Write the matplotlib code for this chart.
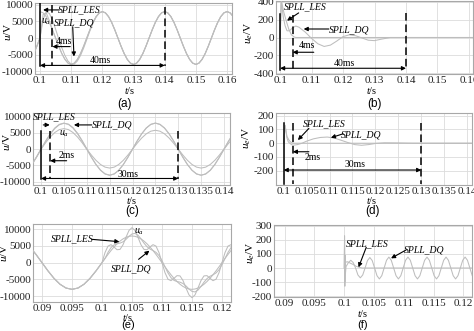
import numpy as np
import matplotlib
matplotlib.use("Agg")
import matplotlib.pyplot as plt

plt.rcParams.update({
    "font.family": ["Liberation Serif", "DejaVu Serif"],
    "font.size": 8,
    "axes.unicode_minus": False,
    "mathtext.fontset": "custom",
    "mathtext.rm": "Liberation Serif",
    "mathtext.it": "Liberation Serif:italic",
})

# ---------------- (a) phase jump: grid voltage and PLL outputs ----------------
a_t_pre = [0.098, 0.099, 0.100]
a_u_pre = [-4702, -2472, 0]
a_t0, a_dt = 0.100, 0.001
a_ua = [8000, 7608, 6472, 4702, 2472, 0, -2472, -4702, -6472, -7608,
        -8000, -7608, -6472, -4702, -2472, 0, 2472, 4702, 6472, 7608,
        8000, 7608, 6472, 4702, 2472, 0, -2472, -4702, -6472, -7608,
        -8000, -7608, -6472, -4702, -2472, 0, 2472, 4702, 6472, 7608,
        8000, 7608, 6472, 4702, 2472, 0, -2472, -4702, -6472, -7608,
        -8000, -7608, -6472, -4702, -2472, 0, 2472, 4702, 6472, 7608,
        8000, 7608, 6472]
a_les = [0, 7128, 7608, 5289, 2472, 0, -2472, -4702, -6472, -7608,
         -8000, -7608, -6472, -4702, -2472, 0, 2472, 4702, 6472, 7608,
         8000, 7608, 6472, 4702, 2472, 0, -2472, -4702, -6472, -7608,
         -8000, -7608, -6472, -4702, -2472, 0, 2472, 4702, 6472, 7608,
         8000, 7608, 6472, 4702, 2472, 0, -2472, -4702, -6472, -7608,
         -8000, -7608, -6472, -4702, -2472, 0, 2472, 4702, 6472, 7608,
         8000, 7608, 6472]
a_dq = [0, 5657, 7902, 7439, 5477, 2710, -251, -2944, -5289, -7009,
        -7902, -7881, -6950, -5289, -3061, -502, 2111, 4497, 6355, 7568,
        8000, 7608, 6472, 4702, 2472, 0, -2472, -4702, -6472, -7608,
        -8000, -7608, -6472, -4702, -2472, 0, 2472, 4702, 6472, 7608,
        8000, 7608, 6472, 4702, 2472, 0, -2472, -4702, -6472, -7608,
        -8000, -7608, -6472, -4702, -2472, 0, 2472, 4702, 6472, 7608,
        8000, 7608, 6472]

# ---------------- (b) phase jump: voltage error ----------------
b_t_les = [0.1000, 0.1004, 0.1012, 0.1020, 0.1028, 0.1036, 0.1045, 0.1050, 0.1620]
b_les = [0, 410, 280, 180, 90, 30, 5, 0, 0]
b_t_dq = [0.1000, 0.1004, 0.1010, 0.1016, 0.1022, 0.1030, 0.1040, 0.1050, 0.1060,
          0.1080, 0.1100, 0.1120, 0.1140, 0.1160, 0.1180, 0.1200, 0.1220, 0.1240,
          0.1260, 0.1280, 0.1300, 0.1320, 0.1350, 0.1400, 0.1620]
b_dq = [0, 410, 230, 130, 75, 75, 110, 128, 115, 60, -10, -70, -100, -85, -40,
        10, 30, 20, -5, -30, -35, -20, 0, 0, 0]

# ---------------- (c) voltage sag: grid voltage and PLL outputs ----------------
c_t0, c_dt = 0.098, 0.001
c_les = [-4702, -2472,
         0, 2472, 4702, 6472, 7608, 8000, 7608, 6472, 4702, 2472,
         0, -2472, -4702, -6472, -7608, -8000, -7608, -6472, -4702, -2472,
         0, 2472, 4702, 6472, 7608, 8000, 7608, 6472, 4702, 2472,
         0, -2472, -4702, -6472, -7608, -8000, -7608, -6472, -4702, -2472,
         0, 2472, 4702]
c_dq = [-4702, -2472,
        0, 2380, 4560, 6330, 7500, 7950, 7660, 6600, 4850, 2620,
        120, -2380, -4630, -6430, -7590, -8000, -7608, -6472, -4702, -2472,
        0, 2472, 4702, 6472, 7608, 8000, 7608, 6472, 4702, 2472,
        0, -2472, -4702, -6472, -7608, -8000, -7608, -6472, -4702, -2472,
        0, 2472, 4702]
c_ua = [-4702, -2472,
        0, 1950, 3700, 5100, 6000, 6300, 6000, 5100, 3700, 1950,
        0, -1792, -3410, -4692, -5516, -5800, -5516, -4692, -3410, -1792,
        0, 1792, 3410, 4692, 5516, 5800, 5516, 4692, 3410, 1792,
        0, -1792, -3410, -4692, -5516, -5800, -5516, -4692, -3410, -1792,
        0, 1792, 3410]

# ---------------- (d) voltage sag: voltage error ----------------
d_t_les = [0.1000, 0.1003, 0.1007, 0.1012, 0.1016, 0.1020, 0.1420]
d_les = [0, 130, 50, 20, 6, 0, 0]
d_t_dq = [0.1000, 0.1003, 0.1007, 0.1010, 0.1015, 0.1020, 0.1030, 0.1040, 0.1050,
          0.1065, 0.1080, 0.1095, 0.1110, 0.1125, 0.1140, 0.1155, 0.1170, 0.1185,
          0.1200, 0.1220, 0.1250, 0.1280, 0.1420]
d_dq = [0, 130, 40, 10, -5, -15, -10, 0, 15, 32, 42, 45, 38, 22, 5, -10, -15,
        -10, -2, 3, 2, 0, 0]

# ---------------- (e) harmonic distortion: grid voltage and PLL outputs ----------------
e_t_pre = [0.088, 0.089, 0.090, 0.091, 0.092, 0.093, 0.094, 0.095, 0.096,
           0.097, 0.098, 0.099, 0.100]
e_u_pre = [4702, 2472, 0, -2472, -4702, -6472, -7608, -8000, -7608, -6472,
           -4702, -2472, 0]
e_t0, e_dt = 0.100, 0.0005
e_ua = [0, 3019, 4972, 5400, 4702, 3889, 3972, 5360, 7608, 9670,
        10500, 9670, 7608, 5360, 3972, 3889, 4702, 5400, 4972, 3019,
        0, -3019, -4972, -5400, -4702, -3889, -3972, -5360, -7608, -9670,
        -10500, -9670, -7608, -5360, -3972, -3889, -4702, -5400, -4972, -3019,
        0, 3019, 4972, 5400, 4702]
e_les = [0, 1251, 2472, 3632, 4702, 5657, 6472, 7128, 7608, 7902,
         8000, 7902, 7608, 7128, 6472, 5657, 4702, 3632, 2472, 1251,
         0, -1251, -2472, -3632, -4702, -5657, -6472, -7128, -7608, -7902,
         -8000, -7902, -7608, -7128, -6472, -5657, -4702, -3632, -2472, -1251,
         0, 1251, 2472, 3632, 4702]
e_dq = [0, 1251, 3091, 4507, 5321, 5657, 5853, 6253, 6989, 7902,
        8619, 8777, 8227, 7128, 5853, 4782, 4083, 3632, 3091, 2126,
        619, -1251, -3091, -4507, -5321, -5657, -5853, -6253, -6989, -7902,
        -8619, -8777, -8227, -7128, -5853, -4782, -4083, -3632, -3091, -2126,
        -619, 1251, 3091, 4507, 5321]

# ---------------- (f) harmonic distortion: voltage error ----------------
f_t_les = [0.1000, 0.10005, 0.1001, 0.1002, 0.1005, 0.1010, 0.1015, 0.1020,
           0.1025, 0.1030, 0.1225]
f_les = [0, 200, -100, 40, 45, 35, 25, 12, 5, 0, 0]
f_t_start = [0.1000, 0.10005, 0.1001, 0.10015, 0.1002, 0.1003]
f_dq_start = [0, 230, -130, 90, -40, 10]
f_t0, f_dt = 0.1007, 0.0004
f_dq = [39, 55, 39, 0, -50, -70, -50, 0, 53, 75, 53, 0, -55, -78, -55, 0,
        55, 78, 55, 0, -55, -78, -55, 0,
        55, 78, 55, 0, -55, -78, -55, 0,
        55, 78, 55, 0, -55, -78, -55, 0,
        55, 78, 55, 0, -55, -78, -55, 0,
        55, 78, 55, 0, -55, -78, -55, 0]

# ---------------- axes ticks ----------------
a_xticks = [0.10, 0.11, 0.12, 0.13, 0.14, 0.15, 0.16]
a_xlabels = ["0.1", "0.11", "0.12", "0.13", "0.14", "0.15", "0.16"]
c_xticks = [0.100, 0.105, 0.110, 0.115, 0.120, 0.125, 0.130, 0.135, 0.140]
c_xlabels = ["0.1", "0.105", "0.11", "0.115", "0.12", "0.125", "0.13", "0.135", "0.14"]
e_xticks = [0.090, 0.095, 0.100, 0.105, 0.110, 0.115, 0.120]
e_xlabels = ["0.09", "0.095", "0.1", "0.105", "0.11", "0.115", "0.12"]
u_yticks = [-10000, -5000, 0, 5000, 10000]
b_yticks = [-400, -200, 0, 200, 400]
d_yticks = [-200, -100, 0, 100, 200]
f_yticks = [-200, -100, 0, 100, 200, 300]

W, H = 474, 331
fig = plt.figure(figsize=(W / 100, H / 100), dpi=100)


def make_axes(l, r, t, b):
    return fig.add_axes([l / W, 1 - b / H, (r - l) / W, (b - t) / H])


CURVE = dict(color="#bdbdbd", lw=0.75, zorder=3)


def setup(ax, xlim, ylim, xt, xl, yt, ylab, ylab_pos, xlab_pos):
    ax.set_xlim(xlim)
    ax.set_ylim(ylim)
    ax.set_xticks(xt)
    ax.set_xticklabels(xl)
    ax.set_yticks(yt)
    ax.set_yticklabels([str(v) for v in yt])
    ax.grid(True, color="#dcdcdc", lw=0.6)
    ax.set_axisbelow(True)
    for s in ax.spines.values():
        s.set_color("#a8a8a8")
        s.set_linewidth(0.8)
    ax.tick_params(length=0, labelsize=8, pad=1.2, colors="#222222")
    ax.text(ylab_pos[0], ylab_pos[1], ylab, rotation=90, ha="center", va="center",
            fontsize=8, transform=ax.transAxes)
    ax.text(xlab_pos[0], xlab_pos[1], r"$t$/s", ha="center", va="center",
            fontsize=7.5, transform=ax.transAxes)


def vline(ax, x, y0, y1, dashed=False):
    ax.plot([x, x], [y0, y1], color="k", lw=1.1,
            ls=(0, (5, 2.5)) if dashed else "-", zorder=4)


def arrow(ax, tip, tail, both=False):
    ax.annotate("", xy=tip, xytext=tail,
                arrowprops=dict(arrowstyle="<|-|>" if both else "-|>", color="k",
                                lw=0.8, mutation_scale=6, shrinkA=0, shrinkB=0),
                zorder=5)


def note(ax, x, y, s, italic=False, size=7):
    ax.text(x, y, s, ha="center", va="center", fontsize=size,
            style="italic" if italic else "normal", zorder=6)


def grid_t(t0, dt, vals):
    return t0 + dt * np.arange(len(vals))


# ---- (a)
ax = make_axes(35, 232, 3, 74)
ta = grid_t(a_t0, a_dt, a_ua)
ax.plot(np.r_[a_t_pre, ta], np.r_[a_u_pre, a_ua], **CURVE)
ax.plot(np.r_[a_t_pre, ta], np.r_[a_u_pre, a_les], **CURVE)
ax.plot(np.r_[a_t_pre, ta], np.r_[a_u_pre, a_dq], **CURVE)
setup(ax, (0.0984, 0.1616), (-10900, 10600), a_xticks, a_xlabels, u_yticks,
      r"$u$/V", (-0.142, 0.59), (0.48, -0.23))
vline(ax, 0.100, 10500, -8600)
vline(ax, 0.104, 10000, -8600, True)
vline(ax, 0.140, 9300, -8600, True)
arrow(ax, (0.140, -8300), (0.100, -8300), both=True)
note(ax, 0.1195, -6800, "40ms")
arrow(ax, (0.104, -2600), (0.1097, -2600))
note(ax, 0.1077, -1100, "4ms")
note(ax, 0.1126, 8500, "SPLL_LES", italic=True)
arrow(ax, (0.101, 8500), (0.1062, 8500))
note(ax, 0.1020, 4900, r"$u_a$")
note(ax, 0.1108, 4640, "SPLL_DQ", italic=True)
arrow(ax, (0.1109, -5600), (0.1105, 3400))

# ---- (b)
ax = make_axes(276, 473, 1, 74)
ax.plot(b_t_les, b_les, **CURVE)
ax.plot(b_t_dq, b_dq, **CURVE)
setup(ax, (0.0987, 0.1613), (-408, 408), a_xticks, a_xlabels, b_yticks,
      r"$u_e$/V", (-0.139, 0.56), (0.487, -0.225))
vline(ax, 0.100, 260, -360)
vline(ax, 0.104, 250, -365, True)
vline(ax, 0.140, 270, -365, True)
arrow(ax, (0.140, -344), (0.100, -344), both=True)
note(ax, 0.1205, -288, "40ms")
arrow(ax, (0.104, -165), (0.1107, -165))
note(ax, 0.1085, -91, "4ms")
note(ax, 0.1080, 344, "SPLL_LES", italic=True)
arrow(ax, (0.1022, 188), (0.1059, 275))
note(ax, 0.1218, 91, "SPLL_DQ", italic=True)
arrow(ax, (0.1075, 95), (0.1155, 95))

# ---- (c)
ax = make_axes(33, 230, 113, 185)
tc = grid_t(c_t0, c_dt, c_ua)
ax.plot(tc, c_ua, **CURVE)
ax.plot(tc, c_les, **CURVE)
ax.plot(tc, c_dq, **CURVE)
setup(ax, (0.09825, 0.14131), (-11000, 11100), c_xticks, c_xlabels, u_yticks,
      r"$u$/V", (-0.134, 0.60), (0.50, -0.22))
vline(ax, 0.100, 5700, -9200)
vline(ax, 0.102, 5700, -9200, True)
vline(ax, 0.130, 5700, -9200, True)
arrow(ax, (0.130, -9000), (0.100, -9000), both=True)
note(ax, 0.1190, -7740, "30ms")
arrow(ax, (0.102, -3550), (0.1056, -3550))
note(ax, 0.1056, -1800, "2ms")
note(ax, 0.1029, 10000, "SPLL_LES", italic=True)
arrow(ax, (0.1019, 7440), (0.1005, 7440))
note(ax, 0.1155, 7440, "SPLL_DQ", italic=True)
arrow(ax, (0.1072, 7440), (0.1111, 7440))
note(ax, 0.1050, 4600, r"$u_a$")

# ---- (d)
ax = make_axes(276, 472, 113, 185)
ax.plot(d_t_les, d_les, **CURVE)
ax.plot(d_t_dq, d_dq, **CURVE)
setup(ax, (0.09832, 0.14109), (-304, 220), c_xticks, c_xlabels, d_yticks,
      r"$u_e$/V", (-0.148, 0.65), (0.49, -0.22))
vline(ax, 0.100, 145, -300)
vline(ax, 0.102, 145, -300, True)
vline(ax, 0.130, 145, -300, True)
arrow(ax, (0.130, -195), (0.100, -195), both=True)
note(ax, 0.1155, -158, "30ms")
arrow(ax, (0.102, -62), (0.1055, -62))
note(ax, 0.1064, -103, "2ms")
note(ax, 0.1089, 145, "SPLL_LES", italic=True)
arrow(ax, (0.1031, 23), (0.1055, 108))
note(ax, 0.1170, 60, "SPLL_DQ", italic=True)
arrow(ax, (0.1103, 40), (0.1129, 68))

# ---- (e)
ax = make_axes(33, 231, 224, 302)
te = grid_t(e_t0, e_dt, e_ua)
for series in (e_ua, e_les, e_dq):
    ax.plot(np.r_[e_t_pre, te], np.r_[e_u_pre, series], **CURVE)
setup(ax, (0.0885, 0.1215), (-11800, 11600), e_xticks, e_xlabels, u_yticks,
      r"$u$/V", (-0.15, 0.63), (0.48, -0.198))
note(ax, 0.0950, 7300, "SPLL_LES", italic=True)
arrow(ax, (0.1029, 6300), (0.0983, 7000))
note(ax, 0.1062, 9300, r"$u_a$")
note(ax, 0.1049, -1700, "SPLL_DQ", italic=True)
arrow(ax, (0.1079, 3600), (0.1061, 1000))

# ---- (f)
ax = make_axes(274, 472, 225, 297)
tf = grid_t(f_t0, f_dt, f_dq)
ax.plot(f_t_les, f_les, **CURVE)
ax.plot(np.r_[f_t_start, tf], np.r_[f_dq_start, f_dq], **CURVE)
setup(ax, (0.0882, 0.12146), (-207, 307), e_xticks, e_xlabels, f_yticks,
      r"$u_e$/V", (-0.116, 0.61), (0.45, -0.235))
note(ax, 0.1038, 176, "SPLL_LES", italic=True)
arrow(ax, (0.1024, 5), (0.1037, 148))
note(ax, 0.1135, 129, "SPLL_DQ", italic=True)
arrow(ax, (0.10786, 69), (0.1104, 129))

# panel letters
for s, px, py, fs in [("(a)", 125, 104, 8.5), ("(b)", 375, 104, 8.5),
                      ("(c)", 132, 211, 8.5), ("(d)", 372, 211, 8.5),
                      ("(e)", 128, 325, 8), ("(f)", 363, 325, 8)]:
    fig.text(px / W, 1 - py / H, s, ha="center", va="center", fontsize=fs,
             family=["Liberation Sans", "DejaVu Sans"])

fig.savefig("out.png", dpi=100)
